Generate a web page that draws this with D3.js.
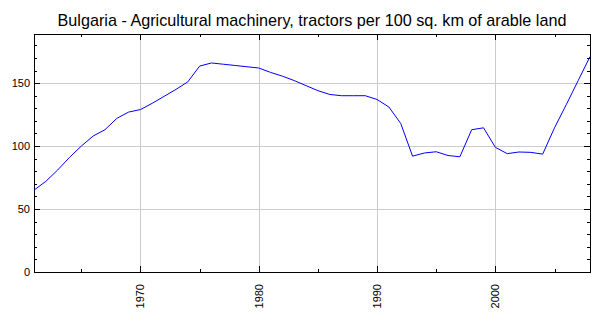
<!DOCTYPE html>
<html>
<head>
<meta charset="utf-8">
<script src="https://cdn.jsdelivr.net/npm/d3@7"></script>
<style>
  body { margin: 0; background: #fff; }
  svg { display: block; }
  text { font-family: Arial, "Liberation Sans", sans-serif; fill: #000; }
  .title { font-size: 16.2px; }
  .tick-label { font-size: 11px; }
</style>
</head>
<body>
<svg id="chart" width="600" height="315"></svg>
<script>
  var title = 'Bulgaria - Agricultural machinery, tractors per 100 sq. km of arable land';

  var years = [1961, 1962, 1963, 1964, 1965, 1966, 1967, 1968, 1969, 1970,
               1971, 1972, 1973, 1974, 1975, 1976, 1977, 1978, 1979, 1980,
               1981, 1982, 1983, 1984, 1985, 1986, 1987, 1988, 1989, 1990,
               1991, 1992, 1993, 1994, 1995, 1996, 1997, 1998, 1999, 2000,
               2001, 2002, 2003, 2004, 2005, 2006, 2007, 2008];

  var tractors = [65, 72, 81, 91, 100, 108, 113, 122, 127, 129,
                  134, 139.5, 145, 151, 163.5, 166, 165, 164, 163, 162,
                  158.5, 155.5, 152, 148, 144, 141, 140, 140, 140, 137,
                  131, 118, 92, 94.5, 95.5, 92.5, 91.5, 113, 114.5, 99,
                  94, 95.3, 95, 93.6, 114.5, 133, 152, 171];

  var xMajor = [1970, 1980, 1990, 2000];
  var xMinor = [1965, 1975, 1985, 1995, 2005];
  var yMajor = [0, 50, 100, 150];
  var yMinor = [10, 20, 30, 40, 60, 70, 80, 90, 110, 120, 130, 140, 160, 170, 180];

  // plot box (note: "top" is a reserved window global)
  var pLeft = 34, pRight = 590, pTop = 34, pBottom = 272;

  var svg = d3.select('#chart');

  var x = d3.scaleLinear().domain([1961, 2008]).range([pLeft, pRight]);
  var y = d3.scaleLinear().domain([0, 189]).range([pBottom, pTop]);

  svg.append('text')
     .attr('class', 'title')
     .attr('x', 312)
     .attr('y', 26)
     .attr('text-anchor', 'middle')
     .text(title);

  // grid
  var grid = svg.append('g').attr('stroke', '#cccccc').attr('shape-rendering', 'crispEdges');
  grid.selectAll('.vg').data(xMajor).enter().append('line')
      .attr('x1', function(d){ return Math.round(x(d)) + 0.5; })
      .attr('x2', function(d){ return Math.round(x(d)) + 0.5; })
      .attr('y1', pTop).attr('y2', pBottom);
  grid.selectAll('.hg').data(yMajor.slice(1)).enter().append('line')
      .attr('y1', function(d){ return Math.round(y(d)) + 0.5; })
      .attr('y2', function(d){ return Math.round(y(d)) + 0.5; })
      .attr('x1', pLeft).attr('x2', pRight);

  // inward ticks on all four sides
  function axis(gen, vals, size, tx, ty) {
    var g = svg.append('g')
       .attr('transform', 'translate(' + tx + ',' + ty + ')')
       .call(gen.tickValues(vals).tickSize(size).tickFormat(''));
    g.select('.domain').remove();
    g.selectAll('line').attr('stroke', '#000').attr('shape-rendering', 'crispEdges');
    return g;
  }
  axis(d3.axisLeft(y), yMajor, -6, pLeft, 0);
  axis(d3.axisLeft(y), yMinor, -3, pLeft, 0);
  axis(d3.axisRight(y), yMajor, -6, pRight, 0);
  axis(d3.axisRight(y), yMinor, -3, pRight, 0);
  axis(d3.axisBottom(x), xMajor, -6, 0, pBottom);
  axis(d3.axisBottom(x), xMinor, -3, 0, pBottom);
  axis(d3.axisTop(x), xMajor, -6, 0, pTop);
  axis(d3.axisTop(x), xMinor, -3, 0, pTop);

  // border
  svg.append('rect')
     .attr('x', pLeft + 0.5).attr('y', pTop + 0.5)
     .attr('width', pRight - pLeft).attr('height', pBottom - pTop)
     .attr('fill', 'none').attr('stroke', '#000')
     .attr('shape-rendering', 'crispEdges');

  // labels
  svg.selectAll('.ylab').data(yMajor).enter().append('text')
     .attr('class', 'tick-label')
     .attr('x', 30)
     .attr('y', function(d){ return y(d); })
     .attr('dy', '0.35em')
     .attr('text-anchor', 'end')
     .text(function(d){ return d; });

  svg.selectAll('.xlab').data(xMajor).enter().append('text')
     .attr('class', 'tick-label')
     .attr('text-anchor', 'end')
     .attr('dy', '0.35em')
     .attr('transform', function(d){ return 'translate(' + x(d) + ',284) rotate(-90)'; })
     .text(function(d){ return d; });

  // series
  var line = d3.line()
     .x(function(d, i){ return x(years[i]); })
     .y(function(d){ return y(d); });

  svg.append('path')
     .datum(tractors)
     .attr('fill', 'none')
     .attr('stroke', '#0000ff')
     .attr('stroke-width', 1)
     .attr('d', line);
</script>
</body>
</html>
